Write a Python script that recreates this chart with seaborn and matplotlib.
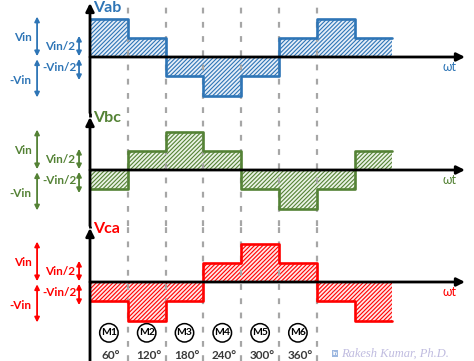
import numpy as np
import pandas as pd
import matplotlib
matplotlib.use('Agg')
import matplotlib.pyplot as plt
import seaborn as sns

# ---------------- data ----------------
sectors = [0, 1, 2, 3, 4, 5, 6, 7, 8]
vab = [1.0, 0.5, -0.5, -1.0, -0.5, 0.5, 1.0, 0.5]
vbc = [-0.5, 0.5, 1.0, 0.5, -0.5, -1.0, -0.5, 0.5]
vca = [-0.5, -1.0, -0.5, 0.5, 1.0, 0.5, -0.5, -1.0]
panel_labels = ['Vab', 'Vbc', 'Vca']
mode_labels = ['M1', 'M2', 'M3', 'M4', 'M5', 'M6']
angle_labels = ['60°', '120°', '180°', '240°', '300°', '360°']
level_labels = ['Vin', '-Vin', 'Vin/2', '-Vin/2']
axis_label = 'ωt'
credit = 'Rakesh Kumar, Ph.D.'

# ---------------- style ----------------
sns.set_style('white')
plt.rcParams['font.family'] = ['Lato', 'DejaVu Sans']
plt.rcParams['hatch.linewidth'] = 0.8

W, H = 474, 361
fig = plt.figure(figsize=(W / 100, H / 100), dpi=100)
UX, X0, UY = 37.8, 90.0, 38.5
xlim = (-X0 / UX, (W - X0) / UX)

panels = [(0, 113, 57, 3), (113, 226, 170, 117), (226, 361, 282, 228)]
title_y = [8, 118, 229]
colors = ['#2e75b6', '#548235', '#ff0000']
fills = ['#e6eef8', '#ebf3e6', '#ffe6e6']
series = [vab, vbc, vca]

axes = []
for i, (t, b, z, tip) in enumerate(panels):
    ax = fig.add_axes([0, 1 - b / H, 1, (b - t) / H])
    ylo, yhi = -(b - z) / UY, (z - t) / UY
    axes.append(ax)
    c = colors[i]
    vals = series[i]
    df = pd.DataFrame({'x': sectors, 'y': vals + [vals[-1]]})

    # hatched fill
    ax.fill_between(df['x'], df['y'], 0, step='post', facecolor=fills[i],
                    edgecolor=c, hatch='////////', linewidth=0, zorder=1)
    # dashed sector lines
    for k in range(1, 7):
        ax.axvline(k, color='#a6a6a6', lw=1.6, ls=(0, (2.6, 3.8)), zorder=2)
    # outline
    sns.lineplot(data=df, x='x', y='y', drawstyle='steps-post', color=c,
                 lw=1.9, ax=ax, estimator=None, zorder=3)
    ax.set_xlim(xlim)
    ax.set_ylim(ylo, yhi)
    ax.axis('off')
    ax.patch.set_alpha(0)

    # horizontal axis arrow
    ax.annotate('', xy=((465 - X0) / UX, 0), xytext=(0, 0),
                arrowprops=dict(arrowstyle='-|>', color='black', lw=2,
                                mutation_scale=12, shrinkA=0, shrinkB=0),
                zorder=4)
    # vertical axis arrow
    ytip = (z - tip) / UY
    ax.annotate('', xy=(0, ytip), xytext=(0, ylo),
                arrowprops=dict(arrowstyle='-|>', color='black', lw=2,
                                mutation_scale=12, shrinkA=0, shrinkB=0),
                zorder=4)
    if i > 0:
        ax.plot([0, 0], [ytip, yhi], color='black', lw=2, zorder=4,
                solid_capstyle='butt')

    # panel title
    ax.text(0.07, (z - title_y[i]) / UY, panel_labels[i], color=c,
            fontsize=11.5, fontweight='bold', ha='left', va='center')
    ax.text((449.5 - X0) / UX, -0.27, axis_label, color=c, fontsize=9,
            ha='center', va='center')

    # level annotations
    ax.text(-1.77, 0.50, level_labels[0], color=c, fontsize=8.5,
            fontweight='bold', ha='center', va='center')
    ax.text(-1.85, -0.60, level_labels[1], color=c, fontsize=8.5,
            fontweight='bold', ha='center', va='center')
    ax.text(-0.80, 0.28, level_labels[2], color=c, fontsize=8.5,
            fontweight='bold', ha='center', va='center')
    ax.text(-0.82, -0.26, level_labels[3], color=c, fontsize=8.5,
            fontweight='bold', ha='center', va='center')
    aprops = dict(arrowstyle='<|-|>', color=c, lw=1.3, mutation_scale=7,
                  shrinkA=0, shrinkB=0)
    ax.annotate('', xy=(-1.40, 1.05), xytext=(-1.40, 0.02), arrowprops=aprops)
    ax.annotate('', xy=(-1.40, -1.05), xytext=(-1.40, -0.06), arrowprops=aprops)
    ax.annotate('', xy=(-0.29, 0.55), xytext=(-0.29, 0.02), arrowprops=aprops)
    ax.annotate('', xy=(-0.29, -0.60), xytext=(-0.29, -0.05), arrowprops=aprops)

# bottom labels
ax = axes[2]
for k in range(6):
    ax.text(k + 0.5, -1.32, mode_labels[k], fontsize=7.5, fontweight='bold',
            ha='center', va='center', color='black',
            bbox=dict(boxstyle='circle,pad=0.12', fc='white', ec='black', lw=1.1))
    ax.text(k + 0.56, -1.90, angle_labels[k], fontsize=8.5, fontweight='bold',
            ha='center', va='center', color='#3a3a3a')

ax.text(6.48, -1.86, 'in', fontsize=4.5, fontweight='bold', color='white',
        ha='center', va='center',
        bbox=dict(boxstyle='square,pad=0.12', fc='#9db8e0', ec='none'))
ax.text(6.63, -1.87, credit, fontsize=9, style='italic',
        family=['Liberation Serif', 'DejaVu Serif'], color='#c0bce0',
        ha='left', va='center')

fig.savefig('out.png', dpi=100)
